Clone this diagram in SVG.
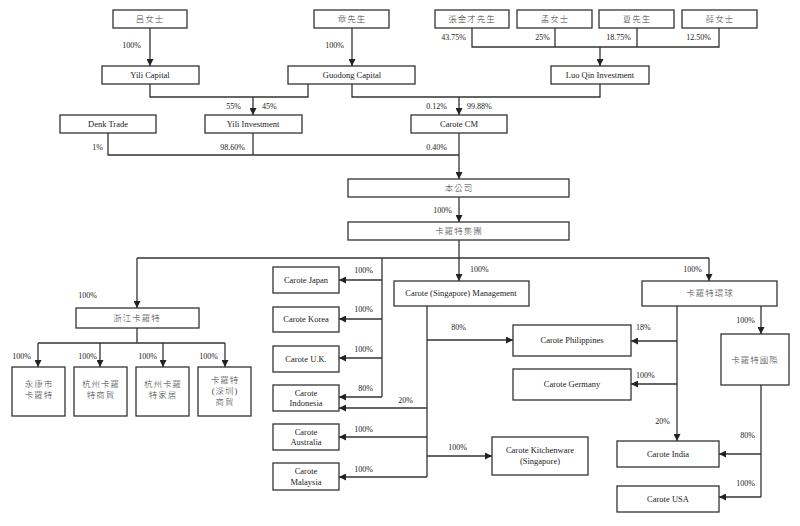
<svg xmlns="http://www.w3.org/2000/svg" width="800" height="526" viewBox="0 0 800 526">
<defs>
<marker id="ah" markerUnits="userSpaceOnUse" markerWidth="7" markerHeight="7" refX="7" refY="3.5" orient="auto">
<path d="M0,0 L7,3.5 L0,7 z" fill="#222"/>
</marker>
<style>
rect{fill:#fff;stroke:#333;stroke-width:1.3}
text{font-family:"Liberation Serif","Noto Sans CJK TC",serif;fill:#222;font-size:8.5px}
.c{text-anchor:middle}
.zh{font-size:8.5px;letter-spacing:1px;fill:#444;font-weight:300}
.p{font-size:8px}
.e{text-anchor:end}
#conn path{fill:none;stroke:#333;stroke-width:1.3}
#conn .a{marker-end:url(#ah)}
</style>
</defs>
<rect x="0" y="0" width="800" height="526" style="fill:#fff;stroke:none"/>
<g id="conn">
<path class="a" d="M150,28 V66"/>
<path class="a" d="M352,28 V66"/>
<path d="M472,28 V47 H719 V28 M555,28 V47 M637,28 V47"/>
<path class="a" d="M600,47 V66"/>
<path d="M150,84 V97 H308 V84"/>
<path class="a" d="M253,97 V115"/>
<path d="M352,84 V97 H600 V84"/>
<path class="a" d="M459,97 V115"/>
<path d="M108,133 V155 H459 M253,133 V155"/>
<path class="a" d="M459,133 V179"/>
<path class="a" d="M459,197 V222"/>
<path d="M459,240 V258 M137,258 H709"/>
<path class="a" d="M137,258 V308"/>
<path class="a" d="M459,258 V281"/>
<path class="a" d="M709,258 V281"/>
<path d="M382,258 V397"/>
<path class="a" d="M382,280 H339"/>
<path class="a" d="M382,319 H339"/>
<path class="a" d="M382,358 H339"/>
<path class="a" d="M382,397 H339"/>
<path d="M137,328 V343 M38,343 H225"/>
<path class="a" d="M38,343 V367"/>
<path class="a" d="M100,343 V367"/>
<path class="a" d="M163,343 V367"/>
<path class="a" d="M225,343 V367"/>
<path d="M427,306 V477"/>
<path class="a" d="M427,340 H513"/>
<path class="a" d="M427,408 H339"/>
<path class="a" d="M427,437 H339"/>
<path class="a" d="M427,477 H339"/>
<path class="a" d="M427,456 H492"/>
<path class="a" d="M677,306 V441"/>
<path class="a" d="M677,341 H631"/>
<path class="a" d="M677,384 H631"/>
<path class="a" d="M761,306 V334"/>
<path d="M761,385 V497"/>
<path class="a" d="M761,454 H719"/>
<path class="a" d="M761,497 H719"/>
</g>
<g id="labels">
<text class="p e" x="141" y="48">100%</text>
<text class="p e" x="344" y="48">100%</text>
<text class="p e" x="466" y="40">43.75%</text>
<text class="p e" x="550" y="40">25%</text>
<text class="p e" x="631" y="40">18.75%</text>
<text class="p e" x="711" y="40">12.50%</text>
<text class="p e" x="241" y="109">55%</text>
<text class="p" x="262" y="109">45%</text>
<text class="p e" x="447" y="109">0.12%</text>
<text class="p" x="467" y="109">99.88%</text>
<text class="p e" x="103" y="150">1%</text>
<text class="p e" x="245" y="150">98.60%</text>
<text class="p e" x="447" y="150">0.40%</text>
<text class="p e" x="452" y="213">100%</text>
<text class="p" x="470" y="272">100%</text>
<text class="p e" x="702" y="272">100%</text>
<text class="p e" x="97" y="298">100%</text>
<text class="p e" x="373" y="273">100%</text>
<text class="p e" x="373" y="312">100%</text>
<text class="p e" x="373" y="352">100%</text>
<text class="p e" x="373" y="391">80%</text>
<text class="p e" x="413" y="403">20%</text>
<text class="p e" x="373" y="432">100%</text>
<text class="p e" x="373" y="472">100%</text>
<text class="p e" x="466" y="330">80%</text>
<text class="p e" x="467" y="450">100%</text>
<text class="p" x="636" y="330">18%</text>
<text class="p" x="636" y="378">100%</text>
<text class="p e" x="670" y="424">20%</text>
<text class="p e" x="755" y="323">100%</text>
<text class="p e" x="755" y="438">80%</text>
<text class="p e" x="755" y="486">100%</text>
<text class="p e" x="31" y="359">100%</text>
<text class="p e" x="97" y="359">100%</text>
<text class="p e" x="157" y="359">100%</text>
<text class="p e" x="218" y="359">100%</text>
</g>
<g id="n-lv"><rect x="113" y="10" width="74" height="18"/><text class="c zh" x="150" y="22">吕女士</text></g>
<g id="n-zhang"><rect x="314" y="10" width="75" height="18"/><text class="c zh" x="352" y="22">章先生</text></g>
<g id="n-zjc"><rect x="435" y="10" width="74" height="18"/><text class="c zh" x="472" y="22">張金才先生</text></g>
<g id="n-meng"><rect x="517" y="10" width="75" height="18"/><text class="c zh" x="555" y="22">孟女士</text></g>
<g id="n-xia"><rect x="599" y="10" width="75" height="18"/><text class="c zh" x="637" y="22">夏先生</text></g>
<g id="n-xue"><rect x="682" y="10" width="75" height="18"/><text class="c zh" x="720" y="22">薛女士</text></g>
<g id="n-yilicap"><rect x="102" y="66" width="97" height="18"/><text class="c" x="150" y="78">Yili Capital</text></g>
<g id="n-guodong"><rect x="288" y="66" width="127" height="18"/><text class="c" x="352" y="78">Guodong Capital</text></g>
<g id="n-luoqin"><rect x="551" y="66" width="98" height="18"/><text class="c" x="600" y="78">Luo Qin Investment</text></g>
<g id="n-denk"><rect x="60" y="115" width="96" height="18"/><text class="c" x="108" y="127">Denk Trade</text></g>
<g id="n-yiliinv"><rect x="205" y="115" width="97" height="18"/><text class="c" x="253" y="127">Yili Investment</text></g>
<g id="n-carotecm"><rect x="411" y="115" width="96" height="18"/><text class="c" x="459" y="127">Carote CM</text></g>
<g id="n-company"><rect x="348" y="179" width="221" height="18"/><text class="c zh" x="459" y="191">本公司</text></g>
<g id="n-group"><rect x="348" y="222" width="221" height="18"/><text class="c zh" x="459" y="234">卡羅特集團</text></g>
<g id="n-zhejiang"><rect x="76" y="308" width="123" height="20"/><text class="c zh" x="137" y="321">浙江卡羅特</text></g>
<g id="n-yk"><rect x="12" y="367" width="53" height="49"/><text class="c zh" x="39" y="387">永康市</text><text class="c zh" x="39" y="398">卡羅特</text></g>
<g id="n-hzsm"><rect x="74" y="367" width="53" height="49"/><text class="c zh" x="101" y="387">杭州卡羅</text><text class="c zh" x="101" y="398">特商貿</text></g>
<g id="n-hzjj"><rect x="136" y="367" width="53" height="49"/><text class="c zh" x="163" y="387">杭州卡羅</text><text class="c zh" x="163" y="398">特家居</text></g>
<g id="n-sz"><rect x="198" y="367" width="53" height="49"/><text class="c zh" x="225" y="383">卡羅特</text><text class="c zh" x="225" y="394">(深圳)</text><text class="c zh" x="225" y="405">商貿</text></g>
<g id="n-japan"><rect x="273" y="267" width="66" height="26"/><text class="c" x="306" y="283">Carote Japan</text></g>
<g id="n-korea"><rect x="273" y="307" width="66" height="25"/><text class="c" x="306" y="322">Carote Korea</text></g>
<g id="n-uk"><rect x="273" y="346" width="66" height="26"/><text class="c" x="306" y="362">Carote U.K.</text></g>
<g id="n-indonesia"><rect x="273" y="385" width="66" height="26"/><text class="c" x="306" y="396">Carote</text><text class="c" x="306" y="406">Indonesia</text></g>
<g id="n-australia"><rect x="273" y="424" width="66" height="26"/><text class="c" x="306" y="435">Carote</text><text class="c" x="306" y="445">Australia</text></g>
<g id="n-malaysia"><rect x="273" y="463" width="66" height="27"/><text class="c" x="306" y="474">Carote</text><text class="c" x="306" y="485">Malaysia</text></g>
<g id="n-sgmgmt"><rect x="394" y="281" width="135" height="25"/><text class="c" x="461" y="296">Carote (Singapore) Management</text></g>
<g id="n-global"><rect x="642" y="281" width="135" height="25"/><text class="c zh" x="710" y="296">卡羅特環球</text></g>
<g id="n-phil"><rect x="513" y="325" width="118" height="31"/><text class="c" x="572" y="343">Carote Philippines</text></g>
<g id="n-germany"><rect x="513" y="369" width="118" height="31"/><text class="c" x="572" y="387">Carote Germany</text></g>
<g id="n-kitchen"><rect x="492" y="437" width="96" height="38"/><text class="c" x="540" y="453">Carote Kitchenware</text><text class="c" x="540" y="464">(Singapore)</text></g>
<g id="n-intl"><rect x="721" y="334" width="68" height="51"/><text class="c zh" x="755" y="363">卡羅特國際</text></g>
<g id="n-india"><rect x="617" y="441" width="102" height="26"/><text class="c" x="668" y="457">Carote India</text></g>
<g id="n-usa"><rect x="617" y="486" width="102" height="26"/><text class="c" x="668" y="502">Carote USA</text></g>
</svg>
